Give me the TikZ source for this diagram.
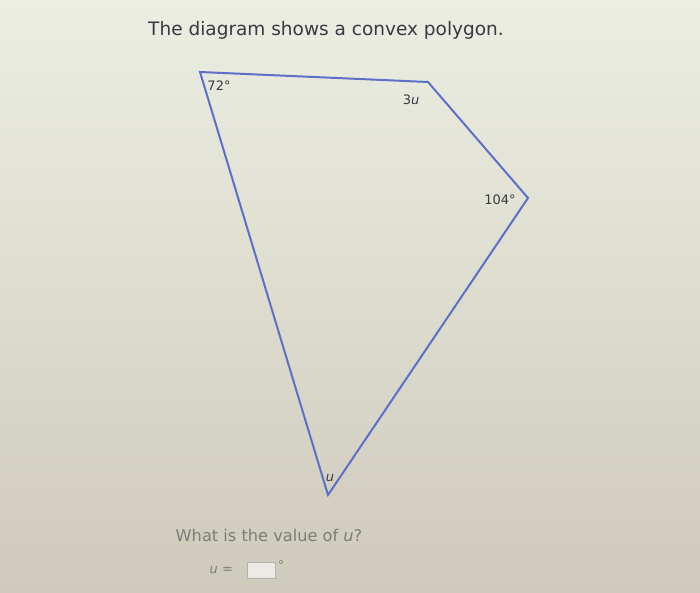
\documentclass[tikz,border=0pt]{standalone}
\usepackage{fontspec}
\setmainfont{DejaVu Sans}
\definecolor{edgeblue}{RGB}{92,112,200}
\definecolor{inkgrey}{RGB}{55,57,68}
\definecolor{paletext}{RGB}{125,125,120}
\definecolor{screentop}{RGB}{236,238,226}
\definecolor{screenbot}{RGB}{206,202,188}
\tikzset{
  edge/.style={draw=edgeblue, line width=1pt, line join=miter},
  anglab/.style={font=\fontsize{6.5}{8}\selectfont, text=inkgrey, inner sep=0pt},
}
\begin{document}
\begin{tikzpicture}[x=0.5pt,y=-0.5pt]
      \shade[top color=screentop, bottom color=screenbot] (0,0) rectangle (700,593);
      \node[font=\fontsize{9.25}{11}\selectfont, text=inkgrey] (title) at (326,30) {The diagram shows a convex polygon.};
      \draw
        (200,72) coordinate (A)
        (428,82) coordinate (B)
        (528,198) coordinate (C)
        (328,495) coordinate (D);
      \draw[edge] (A) -- (B) -- (C) -- (D) -- cycle;
      \node[anglab] (a) at (219,86) {72°};
      \node[anglab] (b) at (411,100) {3\textit{u}};
      \node[anglab] (c) at (500,200) {104°};
      \node[anglab] (d) at (330,478) {\textit{u}};
      \node[font=\fontsize{8.1}{9}\selectfont, text=paletext] (question) at (269,535) {What is the value of \textit{u}?};
      \node[font=\fontsize{6.5}{8}\selectfont, text=paletext, anchor=east] (answer) at (240,570) {\textit{u} =};
      \draw[draw=paletext!60, fill=white!60!screenbot] (247,562) rectangle (275,578);
      \node[font=\fontsize{6}{7}\selectfont, text=paletext] (deg) at (281,565) {°};
    \end{tikzpicture}
\end{document}
